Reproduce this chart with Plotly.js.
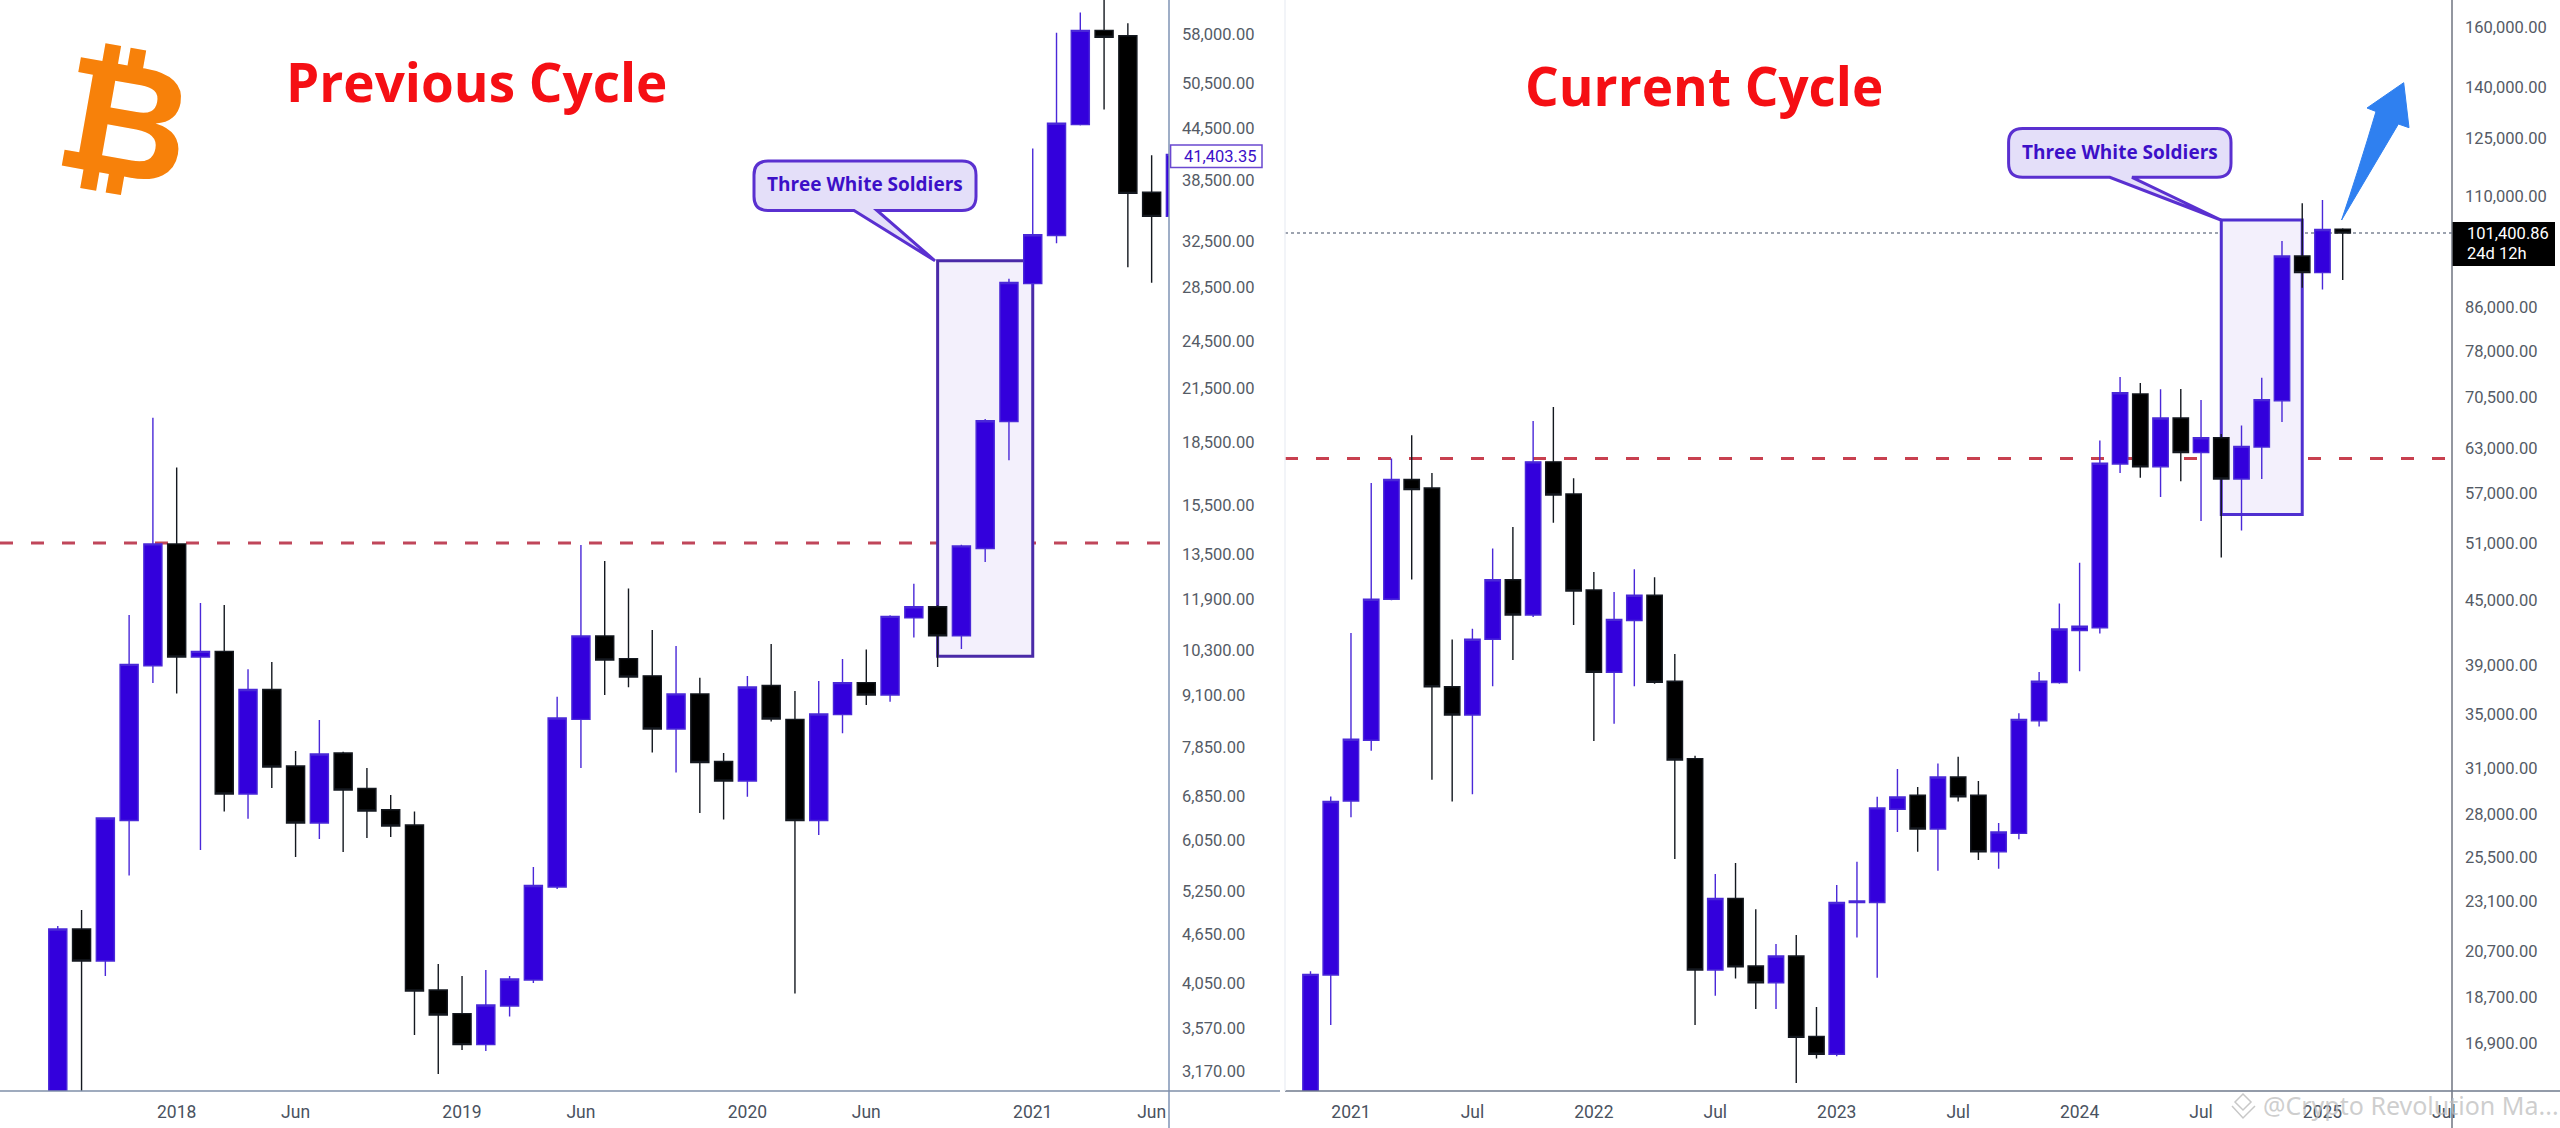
<!DOCTYPE html>
<html><head><meta charset="utf-8">
<script src="https://cdn.plot.ly/plotly-3.0.1.min.js"></script>
<style>html,body{margin:0;padding:0;background:#fff}</style></head>
<body><div id="chart" style="width:2560px;height:1128px"></div>
<script>
// ---------- data ----------
const prevMonths=['2017-08','2017-09','2017-10','2017-11','2017-12','2018-01','2018-02','2018-03','2018-04','2018-05','2018-06','2018-07','2018-08','2018-09','2018-10','2018-11','2018-12','2019-01','2019-02','2019-03','2019-04','2019-05','2019-06','2019-07','2019-08','2019-09','2019-10','2019-11','2019-12','2020-01','2020-02','2020-03','2020-04','2020-05','2020-06','2020-07','2020-08','2020-09','2020-10','2020-11','2020-12','2021-01','2021-02','2021-03','2021-04','2021-05','2021-06','2021-07'];
const prevOpen=[2870,4720,4315,6398,9873,13893,10119,10279,6892,9238,7455,6353,7731,6999,6594,6318,3978,3723,3413,3803,4091,5310,8496,10734,10073,9597,8269,9124,7549,7148,9340,8496,6398,8608,9416,9096,11290,11650,10734,13715,19582,28819,32990,45007,58614,57733,37235,34803];
const prevHigh=[4760,4978,6443,11384,19781,17212,11774,11709,9774,9977,7775,8481,7760,7413,6873,6561,4279,4137,4207,4137,5616,9053,13854,13245,12264,10916,10437,9549,7731,9594,10496,9199,9461,10062,10332,11373,12426,11700,13860,19725,29223,42102,58220,61645,64800,59807,41303,42500];
const prevLow=[2700,2950,4137,5484,9408,9135,5890,6561,6430,7009,5776,6074,5857,6091,6108,3506,3143,3362,3353,3693,4057,5280,7413,9096,9293,7741,7318,6533,6418,6840,8443,3939,6143,8168,8846,8925,10683,9839,10350,13208,17561,28480,32266,44900,46953,30182,28882,29300];
const prevClose=[4720,4315,6443,9912,13893,10119,10279,6892,9238,7434,6353,7709,6969,6570,6300,3967,3708,3413,3814,4102,5331,8529,10734,10034,9567,8269,9124,7526,7148,9303,8505,6398,8625,9416,9096,11338,11650,10734,13815,19620,28907,33052,45183,58614,57510,37122,34803,41403];
const prevTickVals=[58000,50500,44500,38500,32500,28500,24500,21500,18500,15500,13500,11900,10300,9100,7850,6850,6050,5250,4650,4050,3570,3170];
const prevXLabels=[['2017-06','Jun'],['2018-01','2018'],['2018-06','Jun'],['2019-01','2019'],['2019-06','Jun'],['2020-01','2020'],['2020-06','Jun'],['2021-01','2021'],['2021-06','Jun']];
const prevSupport=13931, prevBoxTop=30734, prevBoxBottom=10137, prevBoxStart='2020-09', prevBoxEnd='2021-01', prevLast='41,403.35';

const currMonths=['2020-11','2020-12','2021-01','2021-02','2021-03','2021-04','2021-05','2021-06','2021-07','2021-08','2021-09','2021-10','2021-11','2021-12','2022-01','2022-02','2022-03','2022-04','2022-05','2022-06','2022-07','2022-08','2022-09','2022-10','2022-11','2022-12','2023-01','2023-02','2023-03','2023-04','2023-05','2023-06','2023-07','2023-08','2023-09','2023-10','2023-11','2023-12','2024-01','2024-02','2024-03','2024-04','2024-05','2024-06','2024-07','2024-08','2024-09','2024-10','2024-11','2024-12','2025-01','2025-02'];
const currOpen=[13780,19635,28860,33006,45093,58782,57686,37164,34906,41282,47081,43551,61120,56938,46041,38366,43027,45492,37612,31697,19855,23257,20030,19302,20477,17143,16475,23052,23052,28333,29223,27125,30431,29223,25790,26860,34463,37496,42085,42347,60832,71041,60448,67355,62400,64467,58850,63150,69980,96388,92900,102300];
const currHigh=[19800,29152,41851,58327,61569,64825,59635,41254,42254,50447,52917,66921,69011,58929,47914,45829,48180,47343,39950,31897,24552,25157,22709,21034,21451,18293,23961,25227,29132,30974,29766,31348,31822,30162,27486,35037,38402,44664,48900,64066,73749,72771,71786,71830,70090,65000,66243,73637,99647,108330,109112,102500];
const currLow=[13200,17580,27842,32255,45000,47112,30243,28830,29294,37195,39426,43350,53424,42600,32955,34241,37195,37400,25380,17580,18755,19488,18212,18212,15462,16320,16400,21339,19518,26943,25790,24728,28830,25327,24842,26515,34023,37400,38459,41815,59635,59018,56536,58553,53635,49450,52500,58850,66760,89846,89490,91430];
const currClose=[19661,28830,33087,45093,58782,57484,37164,34906,41282,47081,43551,61120,56800,45928,38366,43133,45492,37525,31599,19855,23257,19992,19302,20477,17104,16475,23052,23130,28420,29114,27125,30431,29132,25790,26943,34569,37612,42226,42488,60928,71218,60448,67355,62400,64467,58850,63250,70150,96388,92900,102216,101401];
const currTickVals=[160000,140000,125000,110000,86000,78000,70500,63000,57000,51000,45000,39000,35000,31000,28000,25500,23100,20700,18700,16900];
const currXLabels=[['2021-01','2021'],['2021-07','Jul'],['2022-01','2022'],['2022-07','Jul'],['2023-01','2023'],['2023-07','Jul'],['2024-01','2024'],['2024-07','Jul'],['2025-01','2025'],['2025-07','Jul']];
const currSupport=61569, currBoxTop=104395, currBoxBottom=54414, currBoxStart='2024-08', currBoxEnd='2024-12', currPrice=101400.86, currPriceText='101,400.86', currCountdown='24d 12h';

const titlePrev='Previous Cycle', titleCurr='Current Cycle', calloutText='Three White Soldiers', watermark='@Crypto Revolution Ma...', logoGlyph='\u20BF';

// ---------- helpers ----------
const W=2560,H=1128;
const PX=x=>x/W, PY=y=>1-y/H;
const monthNum=(s,y0)=>{const [a,b]=s.split('-').map(Number);return (a-y0)*12+b-1;};
const P=(x,y)=>PX(x)+','+PY(y);
const money=v=>v.toLocaleString('en-US',{minimumFractionDigits:2,maximumFractionDigits:2});
const BLUE='#3300dc',BLUEW='#4a28d8',BLACK='#000000',AXISTXT='#555b66';
function candle(months,o,h,l,c,y0,xa,ya){return {type:'candlestick',x:months.map(m=>monthNum(m,y0)),open:o,high:h,low:l,close:c,xaxis:xa,yaxis:ya,
  increasing:{line:{color:BLUEW,width:1.4},fillcolor:BLUE},decreasing:{line:{color:'#14181f',width:1.4},fillcolor:BLACK},whiskerwidth:0,showlegend:false,hoverinfo:'skip'};}
function callout(l,t,r,b,p1,p2,tx,ty){const q=14;
 return {type:'path',xref:'paper',yref:'paper',layer:'above',fillcolor:'#e4dff9',line:{color:'#5a30d0',width:3},
  path:'M'+P(l+q,t)+' L'+P(r-q,t)+' Q'+P(r,t)+' '+P(r,t+q)+' L'+P(r,b-q)+' Q'+P(r,b)+' '+P(r-q,b)+' L'+P(p2,b)+' L'+P(tx,ty)+' L'+P(p1,b)+' L'+P(l+q,b)+' Q'+P(l,b)+' '+P(l,b-q)+' L'+P(l,t+q)+' Q'+P(l,t)+' '+P(l+q,t)+' Z'};}
const paperLine=(x0,y0,x1,y1,color,w)=>({type:'line',xref:'paper',yref:'paper',x0:PX(x0),y0:PY(y0),x1:PX(x1),y1:PY(y1),line:{color:color,width:w},layer:'above'});
const text=(t,x,y,size,color,family,extra)=>Object.assign({text:t,xref:'paper',yref:'paper',x:PX(x),y:PY(y),showarrow:false,xanchor:'center',yanchor:'middle',font:{size:size,color:color,family:family}},extra||{});
const OS='"Open Sans",sans-serif', RB='Roboto, sans-serif';
const bold=(f)=>{f.font.weight=700;return f;};

const axisFont={size:16.5,color:AXISTXT,family:RB};
const xFont={size:17.5,color:'#4a5260',family:RB};
const yCommon={type:'log',side:'right',showgrid:false,zeroline:false,showline:false,ticks:'',ticklabelstandoff:12,tickfont:axisFont,tickmode:'array',fixedrange:true};
const xCommon={type:'linear',showgrid:false,zeroline:false,showline:false,ticks:'',ticklabelstandoff:8,tickfont:xFont,tickmode:'array',rangeslider:{visible:false},fixedrange:true};

const layout={width:W,height:H,margin:{l:0,r:0,t:0,b:0},paper_bgcolor:'#fff',plot_bgcolor:'#fff',showlegend:false,boxgap:0.24,boxgroupgap:0,
 xaxis:Object.assign({},xCommon,{domain:[0,1169/W],anchor:'y',range:[4.57,53.73],tickvals:prevXLabels.map(a=>monthNum(a[0],2017)),ticktext:prevXLabels.map(a=>a[1])}),
 yaxis:Object.assign({},yCommon,{domain:[1-1091/H,1],anchor:'x',range:[Math.log10(2997),Math.log10(63830)],tickvals:prevTickVals,ticktext:prevTickVals.map(money)}),
 xaxis2:Object.assign({},xCommon,{domain:[1285/W,2452/W],anchor:'y2',range:[-3.26,54.4],tickvals:currXLabels.map(a=>monthNum(a[0],2021)),ticktext:currXLabels.map(a=>a[1])}),
 yaxis2:Object.assign({},yCommon,{domain:[1-1091/H,1],anchor:'x2',range:[Math.log10(15190),Math.log10(169850)],tickvals:currTickVals,ticktext:currTickVals.map(money)}),
 shapes:[
  {type:'rect',xref:'x',yref:'y',layer:'below',x0:monthNum(prevBoxStart,2017),x1:monthNum(prevBoxEnd,2017),y0:prevBoxBottom,y1:prevBoxTop,fillcolor:'#f3f0fc',line:{color:'#4a2aa8',width:3}},
  {type:'rect',xref:'x2',yref:'y2',layer:'below',x0:monthNum(currBoxStart,2021),x1:monthNum(currBoxEnd,2021),y0:currBoxBottom,y1:currBoxTop,fillcolor:'#f3f0fc',line:{color:'#4f2fd0',width:3}},
  {type:'line',xref:'paper',yref:'y',layer:'below',x0:0,x1:PX(1160),y0:prevSupport,y1:prevSupport,line:{color:'#c0465a',width:3,dash:'13px 18px'}},
  {type:'line',xref:'paper',yref:'y2',layer:'below',x0:PX(1285),x1:PX(2447),y0:currSupport,y1:currSupport,line:{color:'#c8404f',width:3,dash:'13px 18px'}},
  {type:'line',xref:'paper',yref:'y2',layer:'below',x0:PX(1285),x1:PX(2452),y0:currPrice,y1:currPrice,line:{color:'#7d8595',width:1.5,dash:'dot'}},
  paperLine(1169,0,1169,H,'#7f93b5',1.5),
  paperLine(0,1091,1280,1091,'#7f8fa8',1.5),
  paperLine(2452,0,2452,H,'#6f7480',1.5),
  paperLine(1285,1091,2560,1091,'#6f7a8c',1.5),
  paperLine(1285,0,1285,1091,'#eef1f6',1.5),
  callout(754,161,976,210.4,854,877,935,260.8),
  callout(2008.6,128.4,2231,177.3,2109.8,2132,2221,220),
  {type:'rect',xref:'paper',yref:'paper',layer:'above',x0:PX(1170.6),x1:PX(1262),y0:PY(167.6),y1:PY(145),fillcolor:'#ffffff',line:{color:'#6a48d0',width:1.5}},
  {type:'rect',xref:'paper',yref:'paper',layer:'above',x0:PX(2452.6),x1:PX(2555),y0:PY(266),y1:PY(222),fillcolor:'#000',line:{width:0}},
  {type:'path',xref:'paper',yref:'paper',layer:'above',fillcolor:'#2f80f0',line:{color:'#2f80f0',width:1},
   path:'M'+P(2341.6,220)+' Q'+P(2358,172)+' '+P(2376,111.5)+' L'+P(2367,108)+' L'+P(2403.7,82.7)+' L'+P(2409,127.7)+' L'+P(2398.4,124)+' Q'+P(2370,172)+' '+P(2341.6,220)+' Z'},
  {type:'path',xref:'paper',yref:'paper',layer:'above',fillcolor:'rgba(0,0,0,0)',line:{color:'#c8c8c8',width:1.5},
   path:'M'+P(2243,1094)+' L'+P(2251,1102)+' L'+P(2243,1110)+' L'+P(2235,1102)+' Z M'+P(2232,1106)+' L'+P(2243,1118)+' L'+P(2255,1106)}
 ],
 annotations:[
  bold(text(logoGlyph,125,120,160,'#f7810a','"DejaVu Sans",sans-serif',{textangle:10})),
  bold(text(titlePrev,476,82,53,'#f50f14',OS)),
  bold(text(titleCurr,1704,85,53,'#f50f14',OS)),
  bold(text(calloutText,865,184,19,'#3c10c8',OS)),
  bold(text(calloutText,2120,152,19,'#3c10c8',OS)),
  text(prevLast,1181.6,156,16.5,'#3c10c8',RB,{xanchor:'left'}),
  text(currPriceText,2465,234,16.5,'#ffffff',RB,{xanchor:'left'}),
  text(currCountdown,2465,253,16.5,'#ffffff',RB,{xanchor:'left'}),
  text(watermark,2261,1105,25,'rgba(190,190,190,0.75)','"Noto Sans",sans-serif',{xanchor:'left'})
 ]
};
Plotly.newPlot('chart',[
 candle(prevMonths,prevOpen,prevHigh,prevLow,prevClose,2017,'x','y'),
 candle(currMonths,currOpen,currHigh,currLow,currClose,2021,'x2','y2')
],layout,{displayModeBar:false,staticPlot:true});
</script></body></html>
